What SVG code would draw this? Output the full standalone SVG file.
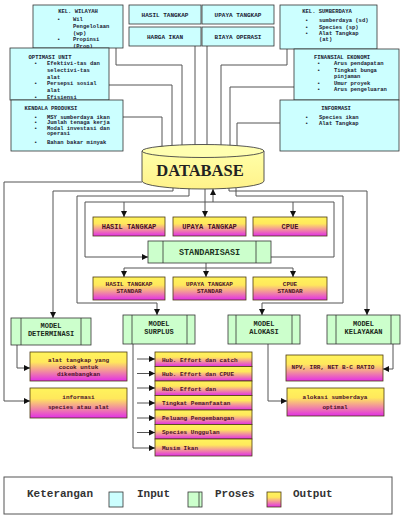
<svg xmlns="http://www.w3.org/2000/svg" width="402" height="519" viewBox="0 0 402 519">
<defs>
<linearGradient id="og" x1="0" y1="0" x2="0" y2="1">
<stop offset="0" stop-color="#FFF45C"/>
<stop offset="0.35" stop-color="#FFE85C"/>
<stop offset="1" stop-color="#E22EE6"/>
</linearGradient>
<linearGradient id="dbg" x1="0" y1="0" x2="0" y2="1">
<stop offset="0" stop-color="#FFFFA8"/>
<stop offset="1" stop-color="#FFF28A"/>
</linearGradient>
<marker id="ah" viewBox="0 0 10 10" refX="10" refY="5" markerWidth="6" markerHeight="6" markerUnits="userSpaceOnUse" orient="auto">
<path d="M0,0 L10,5 L0,10 z" fill="#111"/>
</marker>
<style>
.in{fill:#CCFFFF;stroke:#333;stroke-width:0.8}
.pr{fill:#CCFFCC;stroke:#333;stroke-width:0.8}
.out{fill:url(#og);stroke:#4d3a10;stroke-width:0.8}
.c{fill:none;stroke:#555;stroke-width:1}
.a{marker-end:url(#ah)}
text{font-family:"Liberation Mono","Courier New",monospace;font-weight:bold}
.t{font-size:5.5px;fill:#1a2233}
.tm{text-anchor:middle}
.s6{font-size:6px;fill:#1a2233}
.o7{font-size:7px;fill:#4a1028;text-anchor:middle}
.o6{font-size:6px;fill:#4a1028;text-anchor:middle}
.ol{font-size:6px;fill:#4a1028}
.m7{font-size:7px;fill:#1a2a1a;text-anchor:middle}
.lg{font-size:11px;fill:#333}
</style>
</defs>

<!-- connectors -->
<g id="connectors">
<path class="c a" d="M116,48 V65 H182 V152"/>
<path class="c a" d="M109,85 H172 V152"/>
<path class="c a" d="M123,117 H162 V152"/>
<path class="c a" d="M195,46 V152"/>
<path class="c a" d="M207,46 V152"/>
<path class="c a" d="M287,49 V65 H221 V152"/>
<path class="c a" d="M294,87 H230 V152"/>
<path class="c a" d="M280,123 H237 V152"/>

<path class="c a" d="M142,182 H4 V401 H30"/>
<path class="c a" d="M173,188 V191 H53 V318"/>
<path class="c a" d="M189,188 V196 H77 V303 H157 V315"/>
<path class="c a" d="M205,189 V217"/>
<path class="c" d="M85,202 H213"/>
<path class="c a" d="M85,202 V257 H148"/>
<path class="c a" d="M124,202 V217"/>
<path class="c a" d="M293,202 V217"/>
<path class="c a" d="M271,257 H334 V202 H213 V189"/>
<path class="c a" d="M229,188 V191 H367 V315"/>
<path class="c a" d="M236,188 V196 H343 V303 H262 V315"/>

<path class="c" d="M206,263 V268"/>
<path class="c" d="M124,268 H293"/>
<path class="c a" d="M124,268 V277"/>
<path class="c a" d="M206,268 V277"/>
<path class="c a" d="M293,268 V277"/>

<path class="c a" d="M17,345 V368 H30"/>
<path class="c a" d="M133,344 V448 H155"/>
<path class="c a" d="M137,359 H155"/>
<path class="c a" d="M137,373.5 H155"/>
<path class="c a" d="M137,388 H155"/>
<path class="c a" d="M137,403 H155"/>
<path class="c a" d="M137,418 H155"/>
<path class="c a" d="M137,432.5 H155"/>
<path class="c a" d="M268,344 V401 H287"/>
<path class="c a" d="M393,344 V369 H383"/>
</g>

<!-- input nodes -->
<g id="kel-wilayah">
<rect class="in" x="33" y="5" width="90" height="43"/>
<text class="t tm" x="78" y="13">KEL. WILAYAH</text>
<text class="t" x="57" y="21">•</text>
<text class="t" x="73" y="21">Wil</text>
<text class="t" x="73" y="28">Pengelolaan</text>
<text class="t" x="73" y="35">(wp)</text>
<text class="t" x="57" y="41">•</text>
<text class="t" x="73" y="41">Propinsi</text>
<text class="t" x="73" y="48">(Prop)</text>
</g>
<g id="optimasi-unit">
<rect class="in" x="10" y="48" width="99" height="52"/>
<text class="t tm" x="50" y="59">OPTIMASI UNIT</text>
<text class="t" x="34" y="65">•</text>
<text class="t" x="47" y="65">Efektivi-tas dan</text>
<text class="t" x="47" y="72">selectivi-tas</text>
<text class="t" x="47" y="79">alat</text>
<text class="t" x="34" y="85">•</text>
<text class="t" x="47" y="85">Persepsi sosial</text>
<text class="t" x="47" y="92">alat</text>
<text class="t" x="34" y="98.5">•</text>
<text class="t" x="47" y="98.5">Efisiensi</text>
</g>
<g id="kendala-produksi">
<rect class="in" x="11" y="100" width="112" height="51"/>
<text class="t tm" x="51" y="110">KENDALA PRODUKSI</text>
<text class="t" x="34" y="118.5">•</text>
<text class="t" x="47" y="118.5">MSY sumberdaya ikan</text>
<text class="t" x="34" y="124">•</text>
<text class="t" x="47" y="124">Jumlah tenaga kerja</text>
<text class="t" x="34" y="129.5">•</text>
<text class="t" x="47" y="129.5">Modal investasi dan</text>
<text class="t" x="47" y="135">operasi</text>
<text class="t" x="34" y="143.5">•</text>
<text class="t" x="47" y="143.5">Bahan bakar minyak</text>
</g>
<g id="hasil-tangkap-in">
<rect class="in" x="129" y="5" width="72" height="19"/>
<text class="s6 tm" x="165" y="16.5">HASIL TANGKAP</text>
</g>
<g id="harga-ikan">
<rect class="in" x="129" y="27" width="72" height="19"/>
<text class="s6 tm" x="165" y="38.5">HARGA IKAN</text>
</g>
<g id="upaya-tangkap-in">
<rect class="in" x="202" y="5" width="72" height="19"/>
<text class="s6 tm" x="238" y="16.5">UPAYA TANGKAP</text>
</g>
<g id="biaya-operasi">
<rect class="in" x="202" y="27" width="72" height="19"/>
<text class="s6 tm" x="238" y="38.5">BIAYA OPERASI</text>
</g>
<g id="kel-sumberdaya">
<rect class="in" x="280" y="5" width="97" height="44"/>
<text class="t tm" x="327" y="13">KEL. SUMBERDAYA</text>
<text class="t" x="305" y="22">•</text>
<text class="t" x="319" y="22">sumberdaya (sd)</text>
<text class="t" x="305" y="29">•</text>
<text class="t" x="319" y="29">Species (sp)</text>
<text class="t" x="305" y="35">•</text>
<text class="t" x="319" y="35">Alat Tangkap</text>
<text class="t" x="319" y="41">(at)</text>
</g>
<g id="finansial-ekonomi">
<rect class="in" x="294" y="49" width="105" height="51"/>
<text class="t tm" x="342" y="59">FINANSIAL EKONOMI</text>
<text class="t" x="317" y="65">•</text>
<text class="t" x="334" y="65">Arus pendapatan</text>
<text class="t" x="317" y="72">•</text>
<text class="t" x="334" y="72">Tingkat bunga</text>
<text class="t" x="334" y="78">pinjaman</text>
<text class="t" x="317" y="85">•</text>
<text class="t" x="334" y="85">Umur proyek</text>
<text class="t" x="317" y="91">•</text>
<text class="t" x="334" y="91">Arus pengeluaran</text>
</g>
<g id="informasi-in">
<rect class="in" x="280" y="100" width="119" height="51"/>
<text class="t tm" x="336" y="110">INFORMASI</text>
<text class="t" x="305" y="119">•</text>
<text class="t" x="319" y="119">Species ikan</text>
<text class="t" x="305" y="125">•</text>
<text class="t" x="319" y="125">Alat Tangkap</text>
</g>

<!-- database -->
<g id="database">
<path d="M142,151 V181 A61,8 0 0 0 264,181 V151" fill="url(#dbg)" stroke="#444" stroke-width="0.9"/>
<ellipse cx="203" cy="151" rx="61" ry="6.5" fill="#FFFFB0" stroke="#444" stroke-width="0.9"/>
<text x="200" y="176" text-anchor="middle" style="font-family:'Liberation Serif','Times New Roman',serif;font-weight:bold;font-size:16.5px;fill:#222">DATABASE</text>
</g>

<!-- output row 1 -->
<g id="hasil-tangkap-out">
<rect class="out" x="93" y="217" width="72" height="19"/>
<text class="o7" x="129" y="229">HASIL TANGKAP</text>
</g>
<g id="upaya-tangkap-out">
<rect class="out" x="173" y="217" width="73" height="19"/>
<text class="o7" x="209.5" y="229">UPAYA TANGKAP</text>
</g>
<g id="cpue-out">
<rect class="out" x="253" y="217" width="74" height="19"/>
<text class="o7" x="290" y="229">CPUE</text>
</g>

<g id="standarisasi">
<rect class="pr" x="148" y="241" width="123" height="22"/>
<line x1="163" y1="241" x2="163" y2="263" stroke="#333" stroke-width="0.8"/>
<line x1="256" y1="241" x2="256" y2="263" stroke="#333" stroke-width="0.8"/>
<text x="209.5" y="255" text-anchor="middle" style="font-size:8.5px;fill:#1a3320">STANDARISASI</text>
</g>

<!-- output row 2 -->
<g id="hasil-tangkap-standar">
<rect class="out" x="93" y="277" width="72" height="23"/>
<text class="o6" x="129" y="286">HASIL TANGKAP</text>
<text class="o6" x="129" y="293">STANDAR</text>
</g>
<g id="upaya-tangkap-standar">
<rect class="out" x="173" y="277" width="73" height="23"/>
<text class="o6" x="209.5" y="286">UPAYA TANGKAP</text>
<text class="o6" x="209.5" y="293">STANDAR</text>
</g>
<g id="cpue-standar">
<rect class="out" x="253" y="277" width="74" height="23"/>
<text class="o6" x="290" y="286">CPUE</text>
<text class="o6" x="290" y="293">STANDAR</text>
</g>

<!-- models -->
<g id="model-determinasi">
<rect class="pr" x="11" y="318" width="80" height="27"/>
<line x1="21" y1="318" x2="21" y2="345" stroke="#333" stroke-width="0.8"/>
<line x1="81" y1="318" x2="81" y2="345" stroke="#333" stroke-width="0.8"/>
<text class="m7" x="51" y="328">MODEL</text>
<text class="m7" x="51" y="335.5">DETERMINASI</text>
</g>
<g id="model-surplus">
<rect class="pr" x="123" y="315" width="72" height="29"/>
<line x1="132" y1="315" x2="132" y2="344" stroke="#333" stroke-width="0.8"/>
<line x1="187" y1="315" x2="187" y2="344" stroke="#333" stroke-width="0.8"/>
<text class="m7" x="159" y="326">MODEL</text>
<text class="m7" x="159" y="334">SURPLUS</text>
</g>
<g id="model-alokasi">
<rect class="pr" x="228" y="315" width="72" height="29"/>
<line x1="236" y1="315" x2="236" y2="344" stroke="#333" stroke-width="0.8"/>
<line x1="292" y1="315" x2="292" y2="344" stroke="#333" stroke-width="0.8"/>
<text class="m7" x="264" y="326">MODEL</text>
<text class="m7" x="264" y="334">ALOKASI</text>
</g>
<g id="model-kelayakan">
<rect class="pr" x="327" y="315" width="73" height="29"/>
<line x1="336" y1="315" x2="336" y2="344" stroke="#333" stroke-width="0.8"/>
<line x1="391" y1="315" x2="391" y2="344" stroke="#333" stroke-width="0.8"/>
<text class="m7" x="363.5" y="326">MODEL</text>
<text class="m7" x="363.5" y="334">KELAYAKAN</text>
</g>

<!-- determinasi outputs -->
<g id="alat-tangkap-cocok">
<rect class="out" x="30" y="352" width="97" height="29"/>
<text class="o6" x="78.5" y="362">alat tangkap yang</text>
<text class="o6" x="78.5" y="369">cocok untuk</text>
<text class="o6" x="78.5" y="376">dikembangkan</text>
</g>
<g id="informasi-species">
<rect class="out" x="30" y="388" width="97" height="30"/>
<text class="o6" x="78.5" y="399">informasi</text>
<text class="o6" x="78.5" y="409">species atau alat</text>
</g>

<!-- surplus outputs -->
<g id="hub-catch"><rect class="out" x="155" y="352" width="97" height="14.5"/><text class="ol" x="162" y="361.5">Hub. Effort dan catch</text></g>
<g id="hub-cpue"><rect class="out" x="155" y="366.5" width="97" height="14.5"/><text class="ol" x="162" y="376">Hub. Effort dan CPUE</text></g>
<g id="hub-dan"><rect class="out" x="155" y="381" width="97" height="14.5"/><text class="ol" x="162" y="390.5">Hub. Effort dan</text></g>
<g id="tingkat-pemanfaatan"><rect class="out" x="155" y="395.5" width="97" height="14.5"/><text class="ol" x="162" y="405">Tingkat Pemanfaatan</text></g>
<g id="peluang-pengembangan"><rect class="out" x="155" y="410" width="97" height="14.5"/><text class="ol" x="162" y="419.5">Peluang Pengembangan</text></g>
<g id="species-unggulan"><rect class="out" x="155" y="424.5" width="97" height="14.5"/><text class="ol" x="162" y="434">Species Unggulan</text></g>
<g id="musim-ikan"><rect class="out" x="155" y="439" width="97" height="17"/><text class="ol" x="162" y="449.5">Musim Ikan</text></g>

<!-- kelayakan / alokasi outputs -->
<g id="npv-irr">
<rect class="out" x="286" y="355" width="97" height="26"/>
<text class="o6" x="333" y="369">NPV, IRR, NET B-C RATIO</text>
</g>
<g id="alokasi-optimal">
<rect class="out" x="287" y="388" width="97" height="28"/>
<text class="o6" x="335" y="399">alokasi sumberdaya</text>
<text class="o6" x="335" y="409">optimal</text>
</g>

<!-- legend -->
<g id="legend">
<rect x="4" y="477" width="388" height="37" fill="#fff" stroke="#555" stroke-width="1"/>
<text class="lg" x="27" y="497">Keterangan</text>
<rect class="in" x="109" y="492" width="14" height="15"/>
<text class="lg" x="137" y="497">Input</text>
<rect class="pr" x="188" y="492" width="14" height="15"/>
<line x1="199" y1="492" x2="199" y2="507" stroke="#333" stroke-width="0.8"/>
<text class="lg" x="215" y="497">Proses</text>
<rect class="out" x="267" y="492" width="14" height="15"/>
<text class="lg" x="293" y="497">Output</text>
</g>
</svg>
